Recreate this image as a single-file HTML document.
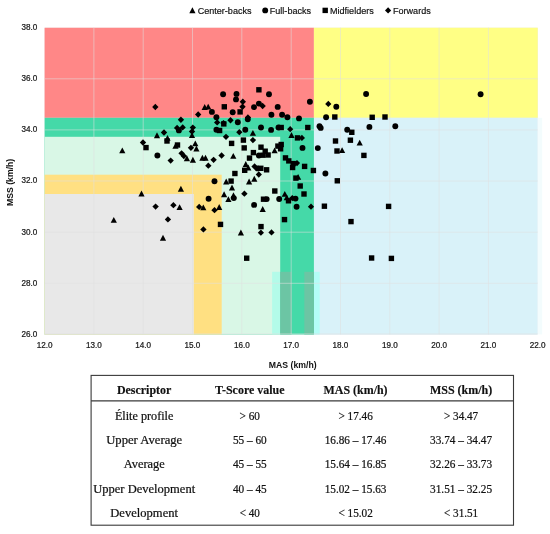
<!DOCTYPE html><html><head><meta charset="utf-8"><title>MAS vs MSS</title>
<style>html,body{margin:0;padding:0;background:#fff}svg{display:block}.tk{font:8.15px "Liberation Sans",Arial,sans-serif;fill:#1a1a1a;stroke:#1a1a1a;stroke-width:.22px}.ax{font:bold 8.7px "Liberation Sans",Arial,sans-serif;fill:#111}.lg{font:9.05px "Liberation Sans",Arial,sans-serif;fill:#111;stroke:#111;stroke-width:.18px}.th{font:bold 12px "Liberation Serif","Times New Roman",serif;fill:#111;stroke:#111;stroke-width:.15px}.td{font:12px "Liberation Serif","Times New Roman",serif;fill:#111;stroke:#111;stroke-width:.22px}</style></head><body>
<svg width="550" height="534" viewBox="0 0 550 534">
<rect width="550" height="534" fill="#fff"/>
<clipPath id="pc"><rect x="44.6" y="27.7" width="493.1" height="306.7"/></clipPath><g clip-path="url(#pc)">
<rect x="40.6" y="23.7" width="501.1" height="314.7" fill="#e8e8e8"/>
<rect x="40.6" y="23.7" width="273.3" height="94.1" fill="#ff8787"/>
<rect x="313.9" y="23.7" width="227.8" height="94.1" fill="#ffff85"/>
<rect x="313.9" y="117.8" width="227.8" height="220.6" fill="#d9f2f9"/>
<rect x="40.6" y="117.8" width="273.3" height="220.6" fill="#45d9a8"/>
<rect x="40.6" y="136.8" width="239.6" height="201.6" fill="#d9f7e6"/>
<rect x="40.6" y="174.7" width="181.1" height="163.7" fill="#ffe082"/>
<rect x="40.6" y="194.0" width="153.2" height="144.4" fill="#e8e8e8"/>
<rect x="272.1" y="271.8" width="8.1" height="66.6" fill="#b3fbe9"/>
<rect x="313.9" y="271.8" width="5.8" height="66.6" fill="#b3fdf7"/>
<rect x="280.2" y="271.8" width="11.4" height="66.6" fill="#6cc5a4"/>
<rect x="304.3" y="271.8" width="9.6" height="66.6" fill="#6cc5a4"/>
</g>
<rect x="537.7" y="117.8" width="4.5" height="216.6" fill="#f3fcfd"/>
<path d="M93.9 27.7V334.4M143.2 27.7V334.4M192.5 27.7V334.4M241.8 27.7V334.4M291.2 27.7V334.4M340.5 27.7V334.4M389.8 27.7V334.4M439.1 27.7V334.4M488.4 27.7V334.4M44.6 333.9H537.7M44.6 283.3H537.7M44.6 232.2H537.7M44.6 181.0H537.7M44.6 129.9H537.7M44.6 78.8H537.7" stroke="#e0e0e0" stroke-opacity="0.6" stroke-width="0.9" fill="none"/>
<g fill="#000">
<path d="M155.3 103.8L158.5 107.0L155.3 110.2L152.2 107.0Z"/>
<path d="M164.0 129.3L167.2 132.5L164.0 135.7L160.8 132.5Z"/>
<path d="M143.0 139.3L146.2 142.5L143.0 145.7L139.8 142.5Z"/>
<path d="M180.9 116.5L184.1 119.7L180.9 122.9L177.8 119.7Z"/>
<path d="M198.2 111.3L201.3 114.5L198.2 117.7L195.0 114.5Z"/>
<path d="M177.1 124.8L180.2 127.9L177.1 131.1L173.9 127.9Z"/>
<path d="M182.7 124.2L185.8 127.4L182.7 130.6L179.5 127.4Z"/>
<path d="M192.8 124.4L196.0 127.6L192.8 130.8L189.7 127.6Z"/>
<path d="M192.0 128.3L195.2 131.5L192.0 134.7L188.8 131.5Z"/>
<path d="M190.9 144.7L194.1 147.8L190.9 151.0L187.8 147.8Z"/>
<path d="M181.6 150.2L184.8 153.3L181.6 156.5L178.4 153.3Z"/>
<path d="M183.8 152.8L187.0 156.0L183.8 159.2L180.7 156.0Z"/>
<path d="M170.7 157.4L173.8 160.6L170.7 163.8L167.5 160.6Z"/>
<path d="M208.3 162.5L211.5 165.7L208.3 168.8L205.2 165.7Z"/>
<path d="M155.6 203.4L158.8 206.6L155.6 209.8L152.4 206.6Z"/>
<path d="M173.4 202.0L176.6 205.2L173.4 208.3L170.2 205.2Z"/>
<path d="M167.9 216.2L171.1 219.4L167.9 222.6L164.8 219.4Z"/>
<path d="M199.2 203.8L202.3 206.9L199.2 210.1L196.0 206.9Z"/>
<path d="M214.5 207.0L217.7 210.2L214.5 213.3L211.3 210.2Z"/>
<path d="M203.4 226.2L206.6 229.4L203.4 232.6L200.2 229.4Z"/>
<path d="M242.8 98.6L246.0 101.8L242.8 105.0L239.7 101.8Z"/>
<path d="M242.5 103.5L245.7 106.7L242.5 109.9L239.3 106.7Z"/>
<path d="M230.5 117.1L233.7 120.3L230.5 123.5L227.3 120.3Z"/>
<path d="M223.5 119.9L226.7 123.1L223.5 126.2L220.3 123.1Z"/>
<path d="M217.2 119.2L220.3 122.4L217.2 125.6L214.0 122.4Z"/>
<path d="M247.9 114.2L251.1 117.4L247.9 120.6L244.8 117.4Z"/>
<path d="M239.3 129.0L242.5 132.2L239.3 135.3L236.2 132.2Z"/>
<path d="M226.0 133.7L229.2 136.8L226.0 140.0L222.8 136.8Z"/>
<path d="M252.9 136.9L256.1 140.1L252.9 143.2L249.8 140.1Z"/>
<path d="M221.6 152.3L224.8 155.5L221.6 158.7L218.4 155.5Z"/>
<path d="M213.6 156.7L216.8 159.8L213.6 163.0L210.4 159.8Z"/>
<path d="M254.6 163.3L257.8 166.5L254.6 169.7L251.4 166.5Z"/>
<path d="M244.4 190.5L247.6 193.7L244.4 196.8L241.2 193.7Z"/>
<path d="M260.9 229.5L264.0 232.7L260.9 235.8L257.8 232.7Z"/>
<path d="M271.5 229.2L274.6 232.4L271.5 235.6L268.4 232.4Z"/>
<path d="M262.6 102.8L265.8 106.0L262.6 109.2L259.5 106.0Z"/>
<path d="M290.2 126.0L293.3 129.2L290.2 132.3L287.1 129.2Z"/>
<path d="M301.9 134.8L305.0 137.9L301.9 141.1L298.8 137.9Z"/>
<path d="M297.0 159.9L300.1 163.1L297.0 166.2L293.9 163.1Z"/>
<path d="M258.8 171.3L261.9 174.5L258.8 177.7L255.7 174.5Z"/>
<path d="M292.3 194.9L295.4 198.1L292.3 201.2L289.2 198.1Z"/>
<path d="M311.0 203.5L314.1 206.7L311.0 209.8L307.9 206.7Z"/>
<path d="M328.3 100.8L331.4 103.9L328.3 107.1L325.2 103.9Z"/>
<path d="M157.0 132.3L160.1 138.2L153.9 138.2Z"/>
<path d="M122.3 147.4L125.4 153.3L119.2 153.3Z"/>
<path d="M167.5 134.9L170.6 140.8L164.4 140.8Z"/>
<path d="M175.5 142.9L178.6 148.8L172.4 148.8Z"/>
<path d="M195.3 140.4L198.4 146.3L192.2 146.3Z"/>
<path d="M196.4 145.5L199.5 151.4L193.3 151.4Z"/>
<path d="M186.9 155.3L190.0 161.2L183.8 161.2Z"/>
<path d="M192.9 156.8L196.0 162.7L189.8 162.7Z"/>
<path d="M202.4 154.8L205.5 160.7L199.3 160.7Z"/>
<path d="M205.5 154.8L208.6 160.7L202.4 160.7Z"/>
<path d="M192.0 132.2L195.1 138.1L188.9 138.1Z"/>
<path d="M180.9 185.8L184.0 191.7L177.8 191.7Z"/>
<path d="M141.5 190.6L144.6 196.5L138.4 196.5Z"/>
<path d="M113.8 216.9L116.9 222.8L110.7 222.8Z"/>
<path d="M179.6 204.2L182.7 210.1L176.5 210.1Z"/>
<path d="M163.0 234.8L166.1 240.7L159.9 240.7Z"/>
<path d="M203.3 204.4L206.4 210.3L200.2 210.3Z"/>
<path d="M219.2 204.1L222.3 210.0L216.1 210.0Z"/>
<path d="M224.1 191.3L227.2 197.2L221.0 197.2Z"/>
<path d="M228.4 196.2L231.5 202.1L225.3 202.1Z"/>
<path d="M204.7 104.1L207.8 110.0L201.6 110.0Z"/>
<path d="M208.2 103.7L211.3 109.6L205.1 109.6Z"/>
<path d="M252.9 129.9L256.0 135.8L249.8 135.8Z"/>
<path d="M233.3 152.9L236.4 158.8L230.2 158.8Z"/>
<path d="M245.8 161.0L248.9 166.9L242.7 166.9Z"/>
<path d="M248.3 164.6L251.4 170.5L245.2 170.5Z"/>
<path d="M226.2 178.5L229.3 184.4L223.1 184.4Z"/>
<path d="M254.3 175.8L257.4 181.7L251.2 181.7Z"/>
<path d="M249.1 178.5L252.2 184.4L246.0 184.4Z"/>
<path d="M232.0 184.5L235.1 190.4L228.9 190.4Z"/>
<path d="M233.5 192.3L236.6 198.2L230.4 198.2Z"/>
<path d="M262.7 206.1L265.8 212.0L259.6 212.0Z"/>
<path d="M240.9 229.6L244.0 235.5L237.8 235.5Z"/>
<path d="M291.5 132.1L294.6 138.0L288.4 138.0Z"/>
<path d="M274.6 147.4L277.7 153.3L271.5 153.3Z"/>
<path d="M298.1 173.9L301.2 179.8L295.0 179.8Z"/>
<path d="M284.8 190.9L287.9 196.8L281.7 196.8Z"/>
<path d="M286.8 194.4L289.9 200.3L283.7 200.3Z"/>
<path d="M359.7 139.7L362.8 145.6L356.6 145.6Z"/>
<path d="M342.1 147.2L345.2 153.1L339.0 153.1Z"/>
<circle cx="233.8" cy="198.1" r="2.95"/>
<circle cx="247.8" cy="119.3" r="2.95"/>
<circle cx="178.9" cy="130.4" r="2.95"/>
<circle cx="157.4" cy="155.5" r="2.95"/>
<circle cx="208.6" cy="198.8" r="2.95"/>
<circle cx="223.1" cy="94.2" r="2.95"/>
<circle cx="236.5" cy="93.9" r="2.95"/>
<circle cx="236.0" cy="99.4" r="2.95"/>
<circle cx="211.9" cy="111.9" r="2.95"/>
<circle cx="216.4" cy="117.2" r="2.95"/>
<circle cx="232.7" cy="112.3" r="2.95"/>
<circle cx="254.0" cy="107.1" r="2.95"/>
<circle cx="258.9" cy="103.6" r="2.95"/>
<circle cx="237.8" cy="122.2" r="2.95"/>
<circle cx="245.3" cy="129.7" r="2.95"/>
<circle cx="216.4" cy="129.7" r="2.95"/>
<circle cx="257.6" cy="168.4" r="2.95"/>
<circle cx="258.9" cy="155.5" r="2.95"/>
<circle cx="214.5" cy="181.3" r="2.95"/>
<circle cx="254.1" cy="204.9" r="2.95"/>
<circle cx="266.7" cy="199.1" r="2.95"/>
<circle cx="269.0" cy="94.2" r="2.95"/>
<circle cx="277.7" cy="106.9" r="2.95"/>
<circle cx="271.4" cy="114.7" r="2.95"/>
<circle cx="282.1" cy="114.7" r="2.95"/>
<circle cx="287.4" cy="117.3" r="2.95"/>
<circle cx="299.0" cy="118.4" r="2.95"/>
<circle cx="309.9" cy="101.8" r="2.95"/>
<circle cx="261.0" cy="127.5" r="2.95"/>
<circle cx="271.1" cy="129.9" r="2.95"/>
<circle cx="278.5" cy="127.5" r="2.95"/>
<circle cx="302.5" cy="147.9" r="2.95"/>
<circle cx="279.2" cy="199.0" r="2.95"/>
<circle cx="295.5" cy="198.6" r="2.95"/>
<circle cx="296.6" cy="206.8" r="2.95"/>
<circle cx="336.3" cy="106.8" r="2.95"/>
<circle cx="326.1" cy="117.3" r="2.95"/>
<circle cx="366.1" cy="94.0" r="2.95"/>
<circle cx="319.5" cy="126.2" r="2.95"/>
<circle cx="320.7" cy="127.9" r="2.95"/>
<circle cx="369.4" cy="126.9" r="2.95"/>
<circle cx="347.2" cy="129.8" r="2.95"/>
<circle cx="317.8" cy="148.1" r="2.95"/>
<circle cx="325.4" cy="173.5" r="2.95"/>
<circle cx="480.6" cy="94.2" r="2.95"/>
<circle cx="395.3" cy="126.3" r="2.95"/>
<rect x="143.3" y="144.9" width="5.4" height="5.4"/>
<rect x="164.3" y="138.3" width="5.4" height="5.4"/>
<rect x="174.8" y="142.3" width="5.4" height="5.4"/>
<rect x="217.8" y="221.7" width="5.4" height="5.4"/>
<rect x="221.6" y="104.1" width="5.4" height="5.4"/>
<rect x="237.4" y="109.2" width="5.4" height="5.4"/>
<rect x="256.2" y="87.1" width="5.4" height="5.4"/>
<rect x="221.1" y="121.2" width="5.4" height="5.4"/>
<rect x="216.9" y="127.8" width="5.4" height="5.4"/>
<rect x="240.7" y="137.4" width="5.4" height="5.4"/>
<rect x="228.9" y="140.7" width="5.4" height="5.4"/>
<rect x="241.5" y="145.2" width="5.4" height="5.4"/>
<rect x="250.7" y="149.9" width="5.4" height="5.4"/>
<rect x="246.8" y="155.4" width="5.4" height="5.4"/>
<rect x="242.0" y="167.6" width="5.4" height="5.4"/>
<rect x="232.2" y="170.8" width="5.4" height="5.4"/>
<rect x="228.4" y="178.4" width="5.4" height="5.4"/>
<rect x="258.1" y="165.6" width="5.4" height="5.4"/>
<rect x="263.9" y="167.1" width="5.4" height="5.4"/>
<rect x="260.8" y="196.5" width="5.4" height="5.4"/>
<rect x="258.3" y="223.9" width="5.4" height="5.4"/>
<rect x="272.1" y="188.3" width="5.4" height="5.4"/>
<rect x="244.0" y="255.5" width="5.4" height="5.4"/>
<rect x="281.8" y="216.9" width="5.4" height="5.4"/>
<rect x="262.5" y="148.5" width="5.4" height="5.4"/>
<rect x="260.3" y="152.5" width="5.4" height="5.4"/>
<rect x="265.4" y="152.3" width="5.4" height="5.4"/>
<rect x="258.3" y="144.5" width="5.4" height="5.4"/>
<rect x="278.5" y="124.8" width="5.4" height="5.4"/>
<rect x="305.1" y="124.8" width="5.4" height="5.4"/>
<rect x="294.8" y="135.2" width="5.4" height="5.4"/>
<rect x="278.5" y="141.8" width="5.4" height="5.4"/>
<rect x="275.2" y="143.4" width="5.4" height="5.4"/>
<rect x="277.9" y="146.1" width="5.4" height="5.4"/>
<rect x="282.8" y="155.2" width="5.4" height="5.4"/>
<rect x="286.1" y="158.2" width="5.4" height="5.4"/>
<rect x="290.5" y="160.9" width="5.4" height="5.4"/>
<rect x="289.9" y="164.8" width="5.4" height="5.4"/>
<rect x="301.9" y="163.7" width="5.4" height="5.4"/>
<rect x="310.7" y="167.8" width="5.4" height="5.4"/>
<rect x="293.2" y="175.4" width="5.4" height="5.4"/>
<rect x="297.5" y="183.3" width="5.4" height="5.4"/>
<rect x="301.3" y="191.3" width="5.4" height="5.4"/>
<rect x="285.8" y="198.1" width="5.4" height="5.4"/>
<rect x="321.7" y="203.5" width="5.4" height="5.4"/>
<rect x="332.1" y="114.3" width="5.4" height="5.4"/>
<rect x="369.5" y="114.6" width="5.4" height="5.4"/>
<rect x="382.3" y="114.3" width="5.4" height="5.4"/>
<rect x="349.1" y="129.6" width="5.4" height="5.4"/>
<rect x="332.8" y="138.3" width="5.4" height="5.4"/>
<rect x="347.7" y="137.5" width="5.4" height="5.4"/>
<rect x="334.3" y="148.3" width="5.4" height="5.4"/>
<rect x="361.2" y="152.7" width="5.4" height="5.4"/>
<rect x="334.6" y="178.1" width="5.4" height="5.4"/>
<rect x="385.9" y="203.7" width="5.4" height="5.4"/>
<rect x="348.3" y="218.9" width="5.4" height="5.4"/>
<rect x="368.9" y="255.3" width="5.4" height="5.4"/>
<rect x="388.7" y="255.7" width="5.4" height="5.4"/>
</g>
<text class="tk" x="37.3" y="336.7" text-anchor="end">26.0</text>
<text class="tk" x="37.3" y="285.6" text-anchor="end">28.0</text>
<text class="tk" x="37.3" y="234.5" text-anchor="end">30.0</text>
<text class="tk" x="37.3" y="183.3" text-anchor="end">32.0</text>
<text class="tk" x="37.3" y="132.2" text-anchor="end">34.0</text>
<text class="tk" x="37.3" y="81.1" text-anchor="end">36.0</text>
<text class="tk" x="37.3" y="30.0" text-anchor="end">38.0</text>
<text class="tk" x="44.6" y="347.9" text-anchor="middle">12.0</text>
<text class="tk" x="93.9" y="347.9" text-anchor="middle">13.0</text>
<text class="tk" x="143.2" y="347.9" text-anchor="middle">14.0</text>
<text class="tk" x="192.5" y="347.9" text-anchor="middle">15.0</text>
<text class="tk" x="241.8" y="347.9" text-anchor="middle">16.0</text>
<text class="tk" x="291.2" y="347.9" text-anchor="middle">17.0</text>
<text class="tk" x="340.5" y="347.9" text-anchor="middle">18.0</text>
<text class="tk" x="389.8" y="347.9" text-anchor="middle">19.0</text>
<text class="tk" x="439.1" y="347.9" text-anchor="middle">20.0</text>
<text class="tk" x="488.4" y="347.9" text-anchor="middle">21.0</text>
<text class="tk" x="537.7" y="347.9" text-anchor="middle">22.0</text>
<text class="ax" x="292.7" y="367.5" text-anchor="middle">MAS (km/h)</text>
<text class="ax" transform="translate(13.4 182.4) rotate(-90)" text-anchor="middle">MSS (km/h)</text>
<g fill="#000">
<path d="M192.4 7.3L195.5 13.2L189.3 13.2Z"/>
<circle cx="265.2" cy="10.4" r="2.95"/>
<rect x="322.5" y="7.7" width="5.4" height="5.4"/>
<path d="M388.1 7.2L391.2 10.4L388.1 13.6L385.0 10.4Z"/>
</g>
<text class="lg" x="197.7" y="13.7">Center-backs</text>
<text class="lg" x="269.8" y="13.7">Full-backs</text>
<text class="lg" x="330.0" y="13.7">Midfielders</text>
<text class="lg" x="393.0" y="13.7">Forwards</text>
<rect x="91.1" y="375.4" width="422.4" height="149.80000000000007" fill="#fff" stroke="#3a3a3a" stroke-width="1.1"/>
<path d="M91.1 400.9H513.5" stroke="#3a3a3a" stroke-width="1.1"/>
<text class="th" x="116.9" y="393.6" textLength="54.5" lengthAdjust="spacingAndGlyphs">Descriptor</text>
<text class="th" x="215.1" y="393.6" textLength="69.4" lengthAdjust="spacingAndGlyphs">T-Score value</text>
<text class="th" x="323.6" y="393.6" textLength="64" lengthAdjust="spacingAndGlyphs">MAS (km/h)</text>
<text class="th" x="429.9" y="393.6" textLength="62.4" lengthAdjust="spacingAndGlyphs">MSS (km/h)</text>
<text class="td" x="114.9" y="419.5" textLength="58.5" lengthAdjust="spacingAndGlyphs">Élite profile</text>
<text class="td" x="239.6" y="419.5" textLength="20.4" lengthAdjust="spacingAndGlyphs">&gt; 60</text>
<text class="td" x="338.4" y="419.5" textLength="34.4" lengthAdjust="spacingAndGlyphs">&gt; 17.46</text>
<text class="td" x="444.0" y="419.5" textLength="34.2" lengthAdjust="spacingAndGlyphs">&gt; 34.47</text>
<text class="td" x="106.2" y="443.8" textLength="76" lengthAdjust="spacingAndGlyphs">Upper Average</text>
<text class="td" x="232.9" y="443.8" textLength="33.8" lengthAdjust="spacingAndGlyphs">55 – 60</text>
<text class="td" x="324.7" y="443.8" textLength="61.8" lengthAdjust="spacingAndGlyphs">16.86 – 17.46</text>
<text class="td" x="430.1" y="443.8" textLength="62" lengthAdjust="spacingAndGlyphs">33.74 – 34.47</text>
<text class="td" x="123.7" y="468.0" textLength="41" lengthAdjust="spacingAndGlyphs">Average</text>
<text class="td" x="232.9" y="468.0" textLength="33.8" lengthAdjust="spacingAndGlyphs">45 – 55</text>
<text class="td" x="324.7" y="468.0" textLength="61.8" lengthAdjust="spacingAndGlyphs">15.64 – 16.85</text>
<text class="td" x="430.1" y="468.0" textLength="62" lengthAdjust="spacingAndGlyphs">32.26 – 33.73</text>
<text class="td" x="93.2" y="492.6" textLength="102" lengthAdjust="spacingAndGlyphs">Upper Development</text>
<text class="td" x="232.9" y="492.6" textLength="33.8" lengthAdjust="spacingAndGlyphs">40 – 45</text>
<text class="td" x="324.7" y="492.6" textLength="61.8" lengthAdjust="spacingAndGlyphs">15.02 – 15.63</text>
<text class="td" x="430.1" y="492.6" textLength="62" lengthAdjust="spacingAndGlyphs">31.51 – 32.25</text>
<text class="td" x="110.3" y="516.8" textLength="67.7" lengthAdjust="spacingAndGlyphs">Development</text>
<text class="td" x="239.7" y="516.8" textLength="20.2" lengthAdjust="spacingAndGlyphs">&lt; 40</text>
<text class="td" x="338.4" y="516.8" textLength="34.4" lengthAdjust="spacingAndGlyphs">&lt; 15.02</text>
<text class="td" x="444.0" y="516.8" textLength="34.2" lengthAdjust="spacingAndGlyphs">&lt; 31.51</text>
</svg></body></html>
